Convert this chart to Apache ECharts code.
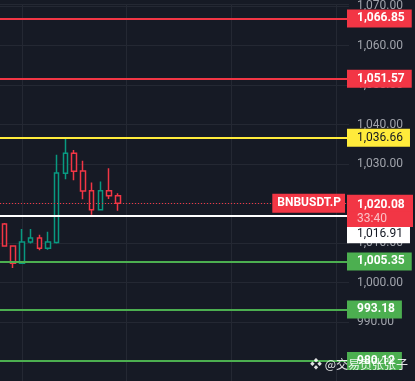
<!DOCTYPE html>
<html>
<head>
<meta charset="utf-8">
<script src="https://cdn.jsdelivr.net/npm/echarts@6/dist/echarts.min.js"></script>
<style>
html,body{margin:0;padding:0;background:#161a25;}
#c{width:415px;height:381px;}
</style>
</head>
<body>
<div id="c"></div>
<script>
// ---- data ----
const categories = ['1','2','3','4','5','6','7','8','9','10','11','12','13','14','15','16','17','18','19','20',
                    '21','22','23','24','25','26','27','28','29','30','31','32','33','34','35','36','37','38','39','40'];
const opens  = [1014.83, 1009.25, 1004.90, 1010.25, 1011.25, 1008.66, 1010.16, 1027.66, 1032.75, 1028.25, 1023.25, 1018.40, 1023.25, 1022.00];
const closes = [1009.25, 1004.90, 1010.25, 1011.25, 1008.66, 1010.25, 1027.75, 1032.75, 1028.16, 1023.16, 1018.40, 1023.25, 1022.00, 1020.08];
const lows   = [1009.20, 1003.66, 1004.85, 1009.90, 1008.16, 1008.33, 1009.90, 1026.16, 1025.90, 1021.08, 1017.16, 1018.35, 1021.16, 1018.15];
const highs  = [1015.08, 1009.40, 1013.58, 1013.58, 1012.08, 1012.83, 1032.33, 1036.50, 1033.58, 1030.83, 1025.33, 1025.58, 1028.90, 1022.58];
const levelValues = [1066.85, 1051.57, 1036.66, 1016.91, 1005.35, 993.18, 980.12];
const currentPrice = 1020.08;
const countdown = '33:40';
const symbolName = 'BNBUSDT.P';
const sessionLineCats = ['3', '15', '27', '39'];
const watermark = '@交易员张张子';
const yMin = 975.08, yMax = 1070.33;

// ---- styles ----
const BG = '#161a25';
const GRID = '#242833';
const UP = '#089981';
const DOWN = '#f23645';
const levelColors = ['#f23645', '#f23645', '#ffeb3b', '#ffffff', '#4caf50', '#4caf50', '#4caf50'];
const levelTextColors = ['#ffffff', '#ffffff', '#131722', '#131722', '#ffffff', '#ffffff', '#ffffff'];
const levelBold = [true, true, false, false, true, true, true];
const levelShift = [0, 0, 0, 37, 0, 0, 0];
const TIMER_OFFSET_PX = 16;
const FONT = 'Roboto, "Noto Sans", sans-serif';

function fmt(v) {
  return v.toLocaleString('en-US', {minimumFractionDigits: 2, maximumFractionDigits: 2});
}

const candleData = opens.map((o, i) => [o, closes[i], lows[i], highs[i]]);

function boxLabel(text, bg, fg, bold, shift, padding, width) {
  const v = {
    backgroundColor: bg, color: fg, fontWeight: bold ? 'bold' : 'normal',
    fontSize: 12, fontFamily: FONT, lineHeight: 12, padding: padding
  };
  if (width) v.width = width;
  return {
    show: true, position: 'end', distance: -2,
    formatter: (shift ? '{s| }\n' : '') + '{v|' + text + '}',
    rich: {s: {lineHeight: shift || 1, fontSize: 1, color: 'transparent'}, v: v}
  };
}

const levelLines = levelValues.map((v, i) => ({
  yAxis: v,
  lineStyle: {color: levelColors[i], width: 2, type: 'solid'},
  label: boxLabel(fmt(v), levelColors[i], levelTextColors[i], levelBold[i], levelShift[i], [3, 7, 3, 10])
}));

const priceLine = {
  yAxis: currentPrice,
  lineStyle: {color: DOWN, width: 1, type: [1, 2]},
  label: {
    show: true, position: 'insideEnd', distance: 4,
    formatter: symbolName,
    backgroundColor: DOWN, color: '#ffffff', fontWeight: 'bold', fontSize: 12, fontFamily: FONT,
    lineHeight: 12, padding: [4, 4, 3, 5]
  }
};
const priceBox = {
  yAxis: currentPrice,
  lineStyle: {color: 'rgba(0,0,0,0)', width: 1},
  label: boxLabel(fmt(currentPrice), DOWN, '#ffffff', true, 0, [4, 7, 1, 10], 49)
};
// countdown box sits directly under the price box (pixel offset converted through the axis scale)
const pxPerUnit = 381 / (yMax - yMin);
const timerBox = {
  yAxis: currentPrice - TIMER_OFFSET_PX / pxPerUnit,
  lineStyle: {color: 'rgba(0,0,0,0)', width: 1},
  label: boxLabel(countdown, DOWN, '#fbc2c7', false, 0, [2, 7, 2, 10], 49)
};

const chart = echarts.init(document.getElementById('c'), null, {renderer: 'canvas'});
chart.setOption({
  animation: false,
  backgroundColor: BG,
  grid: {left: 0, right: 66, top: 0, bottom: 0, containLabel: false},
  xAxis: {
    type: 'category', data: categories, boundaryGap: true,
    axisLine: {show: false}, axisTick: {show: false}, axisLabel: {show: false}, splitLine: {show: false}
  },
  yAxis: {
    type: 'value', position: 'right', min: yMin, max: yMax, splitNumber: 10,
    axisLine: {show: false}, axisTick: {show: false},
    splitLine: {lineStyle: {color: GRID, width: 1}},
    axisLabel: {
      color: '#a0a3ab', fontSize: 12, fontFamily: FONT, margin: 8,
      formatter: v => (Math.abs(v - Math.round(v / 10) * 10) < 1e-6 ? fmt(v) : '')
    }
  },
  series: [
    {
      type: 'line', data: [], silent: true,
      markLine: {
        z: 1, silent: true, symbol: ['none', 'none'], animation: false,
        label: {show: false},
        lineStyle: {color: GRID, width: 1, type: 'solid'},
        data: sessionLineCats.map(c => ({xAxis: c}))
      }
    },
    {
      type: 'candlestick', clip: false, barWidth: 5,
      data: candleData,
      itemStyle: {color: BG, color0: BG, borderColor: UP, borderColor0: DOWN, borderWidth: 1.5},
      markLine: {
        silent: true, symbol: ['none', 'none'], animation: false,
        data: [priceLine].concat(levelLines).concat([timerBox, priceBox])
      }
    }
  ],
  graphic: [{
    type: 'text', right: 7, bottom: 11, z: 100,
    style: {text: '❖ ' + watermark, fill: 'rgba(255,255,255,0.88)', font: '12px "Noto Sans CJK SC", sans-serif'}
  }]
});
</script>
</body>
</html>
